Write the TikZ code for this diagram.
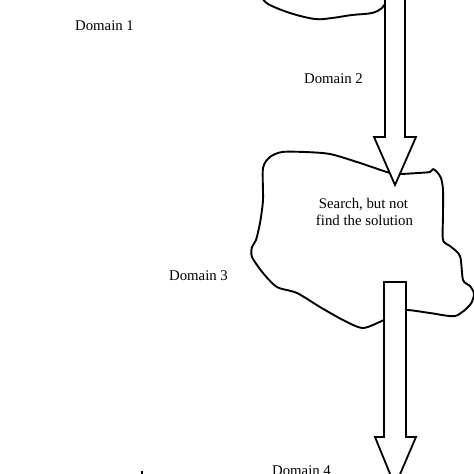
\documentclass[tikz,border=0pt]{standalone}
\usepackage{fontspec}
\setmainfont{Liberation Serif}
\begin{document}
\begin{tikzpicture}[x=1pt,y=-1pt,
  lbl/.style={inner sep=0pt,anchor=base,font=\fontsize{14.8}{17}\selectfont},
  outline/.style={line width=1.9pt,line join=round,line cap=round},
  bigarrow/.style={line width=1.8pt,line join=miter,fill=white,draw=black}]
\useasboundingbox (0,0) rectangle (474,474);
\clip (0,0) rectangle (474,474);
\fill[white] (0,0) rectangle (474,474);
% top blob (cut off)
\draw[outline] plot[smooth,tension=0.6] coordinates {(262,-3) (268,4) (290,13) (315,19) (332,18) (352,15) (372,13) (382,8) (386,2)};
% middle blob
\draw[outline] plot[smooth cycle,tension=0.45] coordinates {
 (282,152) (305,152) (330,154) (357,162) (390,173) (400,174) (418,173) (430,172)
 (433,169) (437,172) (441,178) (443,190) (443,215) (443,240) (450,246) (460,256)
 (463,280) (470,286) (474,294) (470,305) (455,316) (430,313) (406,310) (395,315)
 (384,320) (363,328) (343,320) (320,307) (297,293) (277,287) (263,273) (252,257)
 (252,247) (256,240) (260,223) (263,200) (263,168) (270,157)};
% arrows
\draw[bigarrow] (385,-5) -- (385,137) -- (374,137) -- (395,185) -- (416,137) -- (405,137) -- (405,-5) -- cycle;
\draw[bigarrow] (384,282) -- (384,437) -- (375,437) -- (395,486) -- (416,437) -- (406,437) -- (406,282) -- cycle;
% small fragment
\fill (140.5,470.5) rectangle (142.5,476);
% labels
\node[lbl] (d1) at (104.5,30) {Domain 1};
\node[lbl] (d2) at (333.5,83) {Domain 2};
\node[lbl] (s1) at (363.5,208) {Search, but not};
\node[lbl] (s2) at (364.5,225) {find the solution};
\node[lbl] (d3) at (198.5,280) {Domain 3};
\node[lbl] (d4) at (301.5,475) {Domain 4};
\end{tikzpicture}
\end{document}
